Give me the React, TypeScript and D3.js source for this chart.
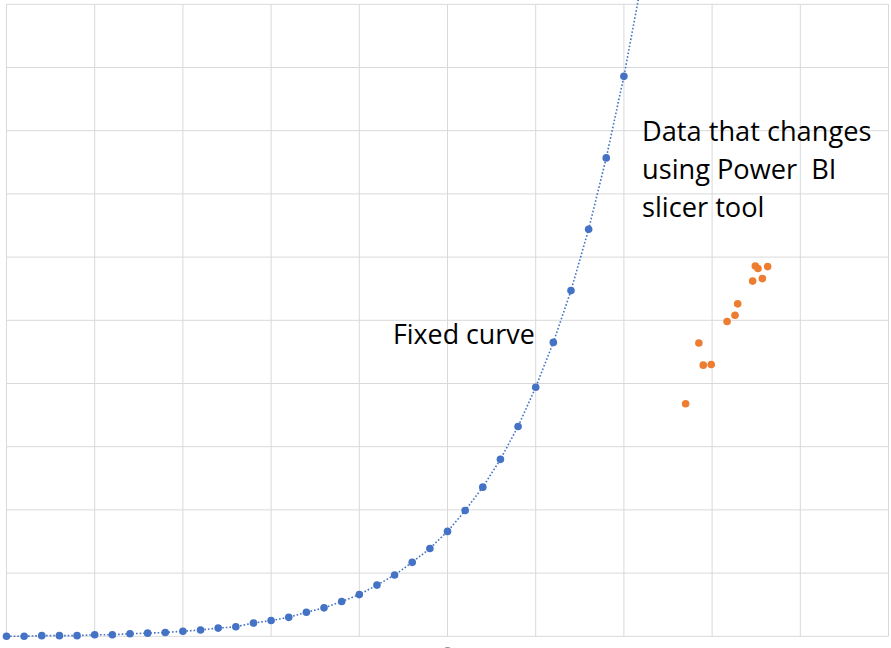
import { useEffect, useRef } from "react";
import * as d3 from "d3";

// Fixed curve: x values and y values
const curveX = [
  0, 0.2, 0.4, 0.6, 0.8, 1, 1.2, 1.4, 1.6, 1.8, 2, 2.2, 2.4, 2.6, 2.8, 3, 3.2,
  3.4, 3.6, 3.8, 4, 4.2, 4.4, 4.6, 4.8, 5, 5.2, 5.4, 5.6, 5.8, 6, 6.2, 6.4,
  6.6, 6.8, 7, 7.2,
];
const curveY = [
  0, 0, 0.01, 0.01, 0.01, 0.025, 0.025, 0.04, 0.05, 0.06, 0.08, 0.1, 0.13,
  0.15, 0.21, 0.25, 0.3, 0.38, 0.45, 0.55, 0.66, 0.81, 0.97, 1.17, 1.39, 1.66,
  1.99, 2.36, 2.8, 3.32, 3.94, 4.65, 5.47, 6.44, 7.57, 8.86, 10.35,
];

// Slicer data points
const sliceX = [
  8.49, 8.52, 8.63, 8.46, 8.57, 8.29, 8.26, 8.17, 7.85, 7.9, 7.99, 7.7,
];
const sliceY = [
  5.86, 5.82, 5.85, 5.62, 5.66, 5.26, 5.08, 4.98, 4.64, 4.29, 4.3, 3.68,
];

const xDomain = [0, 10];
const yDomain = [0, 10];

const noteLines = ["Data that changes", "using Power  BI", "slicer tool"];
const curveLabel = "Fixed curve";

export default function App() {
  const ref = useRef<SVGSVGElement>(null);
  const width = 891;
  const height = 648;

  useEffect(() => {
    const svg = d3.select(ref.current);
    svg.selectAll("*").remove();

    const x = d3.scaleLinear().domain(xDomain).range([6.5, 888.5]);
    const y = d3.scaleLinear().domain(yDomain).range([636.3, 4.3]);

    // grid
    svg
      .append("g")
      .selectAll("line")
      .data(x.ticks(10))
      .enter()
      .append("line")
      .attr("x1", (d) => x(d))
      .attr("x2", (d) => x(d))
      .attr("y1", y(0))
      .attr("y2", y(10))
      .attr("stroke", "#d9d9d9")
      .attr("stroke-width", 1);

    svg
      .append("g")
      .selectAll("line")
      .data(y.ticks(10))
      .enter()
      .append("line")
      .attr("x1", x(0))
      .attr("x2", x(10))
      .attr("y1", (d) => y(d))
      .attr("y2", (d) => y(d))
      .attr("stroke", "#d9d9d9")
      .attr("stroke-width", 1);

    const curve = curveX.map((v, i) => [v, curveY[i]] as [number, number]);
    const line = d3
      .line<[number, number]>()
      .x((d) => x(d[0]))
      .y((d) => y(d[1]));

    svg
      .append("path")
      .datum(curve)
      .attr("d", line)
      .attr("fill", "none")
      .attr("stroke", "#4472C4")
      .attr("stroke-width", 1.6)
      .attr("stroke-dasharray", "1.6 2");

    // curve markers (the last point lies beyond the visible area)
    svg
      .append("g")
      .selectAll("circle")
      .data(curve.filter((d) => d[1] <= 10))
      .enter()
      .append("circle")
      .attr("cx", (d) => x(d[0]))
      .attr("cy", (d) => y(d[1]))
      .attr("r", 3.8)
      .attr("fill", "#4472C4");

    svg
      .append("g")
      .selectAll("circle")
      .data(sliceX.map((v, i) => [v, sliceY[i]]))
      .enter()
      .append("circle")
      .attr("cx", (d) => x(d[0]))
      .attr("cy", (d) => y(d[1]))
      .attr("r", 3.8)
      .attr("fill", "#ED7D31");

    const font = "'Open Sans', 'Noto Sans', sans-serif";

    svg
      .append("text")
      .attr("x", 393)
      .attr("y", 344)
      .attr("font-family", font)
      .attr("font-size", 26.8)
      .attr("fill", "#000")
      .text(curveLabel);

    svg
      .append("g")
      .selectAll("text")
      .data(noteLines)
      .enter()
      .append("text")
      .attr("x", 642)
      .attr("y", (_, i) => 141 + i * 38)
      .attr("font-family", font)
      .attr("font-size", 27.2)
      .attr("fill", "#000")
      .style("white-space", "pre")
      .text((d) => d);

    // scroll handle at bottom
    svg
      .append("circle")
      .attr("cx", x(5))
      .attr("cy", 652)
      .attr("r", 5)
      .attr("fill", "#8c8c8c");
  }, []);

  return (
    <svg
      ref={ref}
      width={width}
      height={height}
      style={{ position: "absolute", left: 0, top: 0, background: "#fff" }}
    />
  );
}
